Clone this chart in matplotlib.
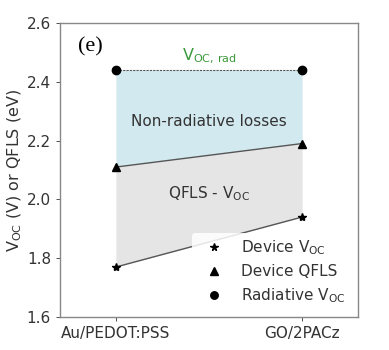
import matplotlib
matplotlib.use("Agg")
import matplotlib.pyplot as plt
import numpy as np

categories = ["Au/PEDOT:PSS", "GO/2PACz"]
voc = [1.77, 1.94]
qfls = [2.11, 2.19]
voc_rad = [2.44, 2.44]
yticks = [1.6, 1.8, 2.0, 2.2, 2.4, 2.6]

x = np.arange(len(categories))

fig = plt.figure(figsize=(3.89, 3.5), dpi=100)
ax = fig.add_axes([60/389, 1-317/350, (358-60)/389, (317-23)/350])

ax.fill_between(x, qfls, voc_rad, color="#d3e9f0", lw=0, zorder=1)
ax.fill_between(x, voc, qfls, color="#e5e5e5", lw=0, zorder=1)
ax.plot(x, voc_rad, ls=(0, (2, 1)), color="#555555", lw=0.8, zorder=2)
ax.plot(x, qfls, color="#555555", lw=1.0, zorder=2)
ax.plot(x, voc, color="#555555", lw=1.0, zorder=2)
ax.plot(x, voc, ls="none", marker="*", ms=6, color="black", label="Device V$_{\\mathrm{OC}}$", zorder=3)
ax.plot(x, qfls, ls="none", marker="^", ms=6, color="black", label="Device QFLS", zorder=3)
ax.plot(x, voc_rad, ls="none", marker="o", ms=6, color="black", label="Radiative V$_{\\mathrm{OC}}$", zorder=3)

ax.set_xlim(-0.3, 1.3)
ax.set_ylim(1.6, 2.6)
ax.set_xticks(x)
ax.set_xticklabels(categories)
ax.set_yticks(yticks)
ax.set_yticklabels([f"{v:.1f}" for v in yticks])
ax.tick_params(labelsize=11, colors="#333333", length=3, width=0.6)
for s in ax.spines.values():
    s.set_color("#888888")
    s.set_linewidth(1.0)
ax.set_ylabel("V$_{\\mathrm{OC}}$ (V) or QFLS (eV)", fontsize=11.5, color="#333333", labelpad=2)

ax.text(0.06, 0.92, "(e)", transform=ax.transAxes, family="Liberation Serif", fontsize=16, va="center", ha="left")
ax.text(0.5, 2.485, "V$_{\\mathrm{OC,\\,rad}}$", color="#3a9a3a", fontsize=11.5, ha="center", va="center")
ax.text(0.5, 2.265, "Non-radiative losses", color="#333333", fontsize=11, ha="center", va="center")
ax.text(0.5, 2.02, "QFLS - V$_{\\mathrm{OC}}$", color="#333333", fontsize=11, ha="center", va="center")

leg = ax.legend(loc="lower right", fontsize=11, frameon=True, framealpha=0.85, edgecolor="none",
                handletextpad=0.8, borderaxespad=0.4, labelspacing=0.45, markerscale=0.9)
for t in leg.get_texts():
    t.set_color("#333333")

fig.savefig("out.png", dpi=100)
